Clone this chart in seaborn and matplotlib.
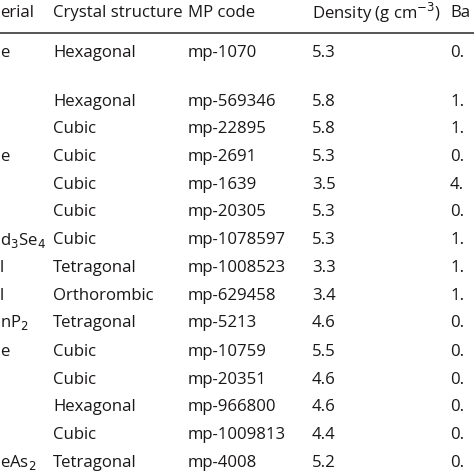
import matplotlib
matplotlib.use("Agg")
import matplotlib.pyplot as plt
import seaborn as sns

sns.set_theme(style="white")
plt.rcParams['font.family'] = ['Open Sans', 'DejaVu Sans']

headers = ["erial", "Crystal structure", "MP code", "Density (g cm$^{-3}$)", "Ba"]
materials = ["e", "", "", "e", "", "", "d$_3$Se$_4$", "l", "l", "nP$_2$", "e", "", "", "", "eAs$_2$"]
structures = ["Hexagonal", "Hexagonal", "Cubic", "Cubic", "Cubic", "Cubic", "Cubic", "Tetragonal",
              "Orthorombic", "Tetragonal", "Cubic", "Cubic", "Hexagonal", "Cubic", "Tetragonal"]
mp_codes = ["mp-1070", "mp-569346", "mp-22895", "mp-2691", "mp-1639", "mp-20305", "mp-1078597",
            "mp-1008523", "mp-629458", "mp-5213", "mp-10759", "mp-20351", "mp-966800", "mp-1009813", "mp-4008"]
densities = ["5.3", "5.8", "5.8", "5.3", "3.5", "5.3", "5.3", "3.3", "3.4", "4.6", "5.5", "4.6", "4.6", "4.4", "5.2"]
band = ["0.", "1.", "1.", "0.", "4.", "0.", "1.", "1.", "1.", "0.", "0.", "0.", "0.", "0.", "0."]
row_y = [53, 102, 129, 157, 185, 212, 240, 268, 296, 323, 352, 380, 407, 435, 463]

fig = plt.figure(figsize=(4.74, 4.74), dpi=100)
ax = fig.add_axes([0, 0, 1, 1])
ax.set_xlim(0, 474)
ax.set_ylim(474, 0)
ax.axis("off")

col_x = [0, 53, 188, 312, 450]
fs = 12.1
color = "#1a1718"
for x, h in zip(col_x, headers):
    ax.text(x, 13, h, fontsize=fs, va="center", ha="left", color=color)
ax.plot([0, 474], [33, 33], color="#555555", lw=1.4)
cols = [materials, structures, mp_codes, densities, band]
for x, col in zip(col_x, cols):
    for y, val in zip(row_y, col):
        ax.text(x, y, val, fontsize=fs, va="center", ha="left", color=color)

fig.savefig("out.png", dpi=100)
